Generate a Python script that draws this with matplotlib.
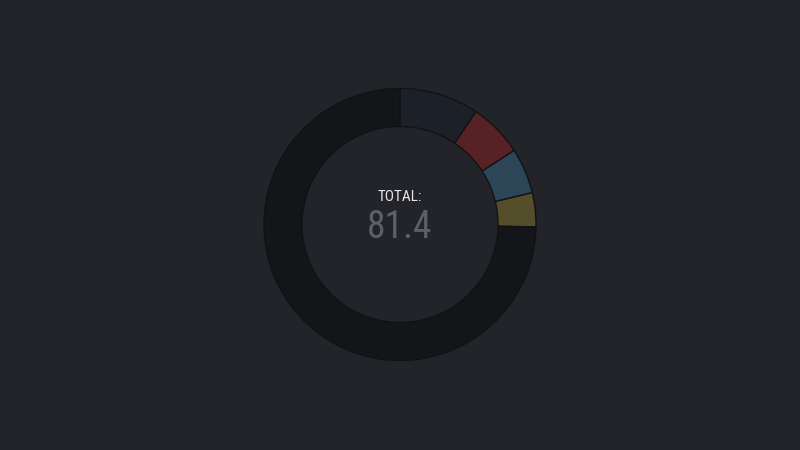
import matplotlib
matplotlib.use("Agg")
import matplotlib.pyplot as plt
from matplotlib import font_manager

# donut values, last one is the empty rest of the ring
labels = ["A", "B", "C", "D", "rest"]
values = [30.4, 20.6, 17.4, 13.0, 240.6]
colors = ["#1b2029", "#572126", "#2d4657", "#554e2a", "#141518"]
total_label = "TOTAL:"
total_value = sum(values[:4])

bg = "#232429"

names = set(f.name for f in font_manager.fontManager.ttflist)
narrow = "DejaVu Sans"
for n in ["Liberation Sans Narrow", "DejaVu Sans Condensed", "Roboto Condensed"]:
    if n in names:
        narrow = n
        break

fig = plt.figure(figsize=(8, 4.5), dpi=100, facecolor=bg)
ax = fig.add_axes([0, 0, 1, 1])
ax.set_facecolor(bg)

ax.pie(values, colors=colors, radius=136, center=(400, 225.5),
       startangle=90, counterclock=False,
       wedgeprops=dict(width=38, edgecolor="#111214", linewidth=1.0))

ax.set_xlim(0, 800)
ax.set_ylim(0, 450)
ax.axis("off")

ax.text(400, 253, total_label, ha="center", va="center", fontsize=11,
        color="#e6e6e6", family=narrow)
ax.text(400, 222, f"{total_value:.1f}", ha="center", va="center", fontsize=27,
        color="#5e6066", family=narrow)

fig.savefig("out.png", dpi=100, facecolor=bg)
